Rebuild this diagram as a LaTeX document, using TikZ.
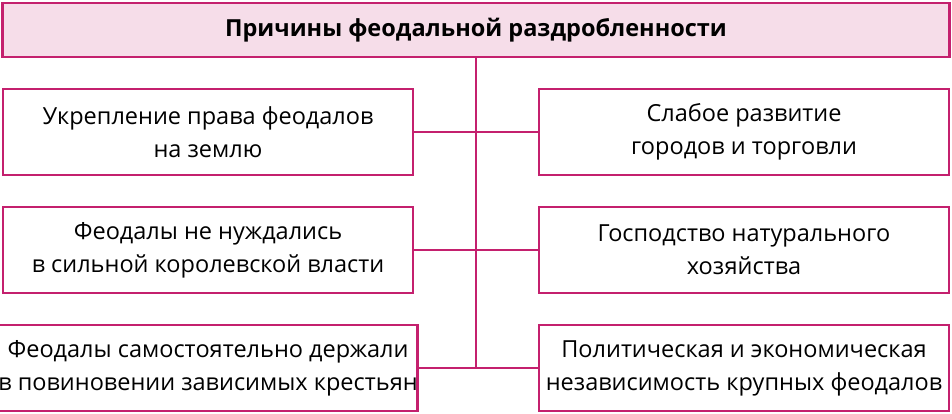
\documentclass[tikz,border=0pt]{standalone}
\usepackage{fontspec}
\setmainfont{Open Sans}
\usetikzlibrary{positioning}
\definecolor{frame}{HTML}{C4206E}
\definecolor{head}{HTML}{F6DDE9}

\begin{document}
\begin{tikzpicture}[x=1pt,y=-1pt,
    causebox/.style={draw=frame, line width=2.4pt, minimum width=410pt, minimum height=86pt,
        align=center, font=\fontsize{23.5}{33}\selectfont, inner sep=0pt},
    link/.style={draw=frame, line width=2.4pt}
    ]
        \useasboundingbox (0,0) rectangle (952,414);
        %Nodes
        \node[draw=frame, fill=head, line width=2.4pt, minimum width=947pt, minimum height=54pt,
            font=\fontsize{23.5}{28}\selectfont\bfseries, inner sep=0pt]
            (title) at (476,30) {Причины феодальной раздробленности};
        \node[causebox] (l1) at (208,132) {Укрепление права феодалов\\на землю};
        \node[causebox] (l2) at (208,250) {Феодалы не нуждались\\в сильной королевской власти};
        \node[causebox] (l3) at (208,368) {Феодалы самостоятельно держали\\в повиновении зависимых крестьян};
        \node[causebox] (r1) at (744,132) {Слабое развитие\\городов и торговли};
        \node[causebox] (r2) at (744,250) {Господство натурального\\хозяйства};
        \node[causebox] (r3) at (744,368) {Политическая и экономическая\\независимость крупных феодалов};
        \coordinate (spine) at (476,368);

        %Lines
        \draw[link] (title.south) -- (spine);
        \foreach \row in {1,2,3}
            \draw[link] (l\row.east) -- (r\row.west);
    \end{tikzpicture}
\end{document}
